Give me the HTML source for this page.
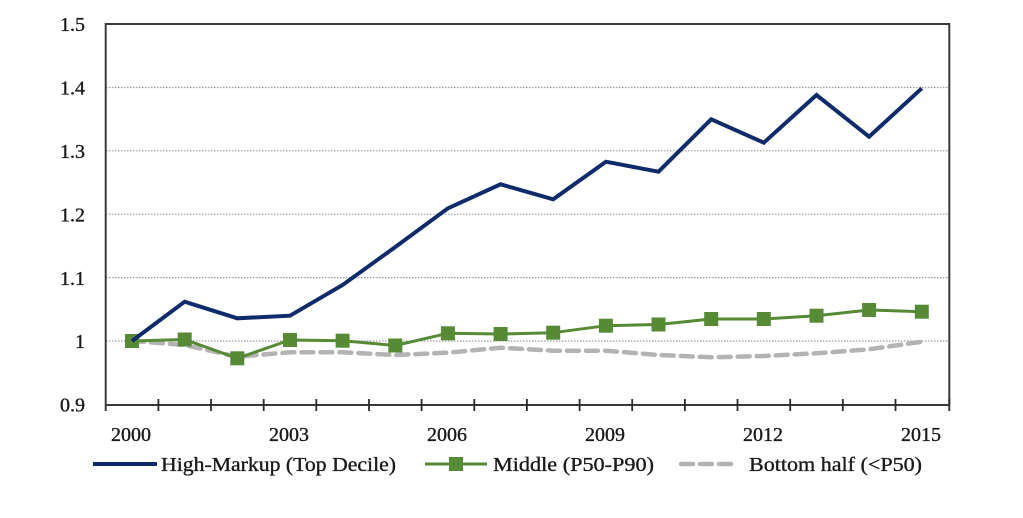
<!DOCTYPE html>
<html><head><meta charset="utf-8"><style>
html,body{margin:0;padding:0;background:#fff;}
svg{display:block;}
text{font-family:"Liberation Serif",serif;fill:#1a1a1a;stroke:#1a1a1a;stroke-width:0.35;}
</style></head><body>
<svg width="1023" height="518" viewBox="0 0 1023 518" xmlns="http://www.w3.org/2000/svg">
<rect width="1023" height="518" fill="#fff"/>
<!-- gridlines -->
<g stroke="#9a9a9a" stroke-width="1.2" stroke-dasharray="1.5,1.5">
<line x1="106" y1="87.5" x2="949" y2="87.5"/>
<line x1="106" y1="150.8" x2="949" y2="150.8"/>
<line x1="106" y1="214.2" x2="949" y2="214.2"/>
<line x1="106" y1="277.6" x2="949" y2="277.6"/>
<line x1="106" y1="341" x2="949" y2="341"/>
</g>
<!-- frame -->
<g stroke="#3a3a3a" stroke-width="2" fill="none">
<line x1="105.7" y1="24" x2="949.3" y2="24"/>
<line x1="949.3" y1="23" x2="949.3" y2="405"/>
<line x1="105.7" y1="23" x2="105.7" y2="411"/>
<line x1="105" y1="405" x2="950" y2="405"/>
</g>
<g stroke="#2a2a2a" stroke-width="1.8">
<line x1="158.4" y1="399" x2="158.4" y2="411"/>
<line x1="211.0" y1="399" x2="211.0" y2="411"/>
<line x1="263.7" y1="399" x2="263.7" y2="411"/>
<line x1="316.3" y1="399" x2="316.3" y2="411"/>
<line x1="369.0" y1="399" x2="369.0" y2="411"/>
<line x1="421.6" y1="399" x2="421.6" y2="411"/>
<line x1="474.3" y1="399" x2="474.3" y2="411"/>
<line x1="526.9" y1="399" x2="526.9" y2="411"/>
<line x1="579.6" y1="399" x2="579.6" y2="411"/>
<line x1="632.2" y1="399" x2="632.2" y2="411"/>
<line x1="684.9" y1="399" x2="684.9" y2="411"/>
<line x1="737.5" y1="399" x2="737.5" y2="411"/>
<line x1="790.2" y1="399" x2="790.2" y2="411"/>
<line x1="842.8" y1="399" x2="842.8" y2="411"/>
<line x1="895.5" y1="399" x2="895.5" y2="411"/>
<line x1="949.3" y1="399" x2="949.3" y2="411"/>
</g>
<!-- y labels -->
<g font-size="20" text-anchor="end">
<text x="85" y="31">1.5</text>
<text x="85" y="94.5">1.4</text>
<text x="85" y="158">1.3</text>
<text x="85" y="221.5">1.2</text>
<text x="85" y="285">1.1</text>
<text x="85" y="348">1</text>
<text x="85" y="411.5">0.9</text>
</g>
<!-- x labels -->
<g font-size="20" text-anchor="middle">
<text x="131" y="441">2000</text>
<text x="289" y="441">2003</text>
<text x="447" y="441">2006</text>
<text x="605" y="441">2009</text>
<text x="763" y="441">2012</text>
<text x="921" y="441">2015</text>
</g>
<!-- gray dashed -->
<polyline fill="none" stroke="#b3b3b3" stroke-width="4.5" stroke-dasharray="12,7" stroke-linecap="round" stroke-linejoin="round"
points="132,341 184.7,345 237.3,356.7 290,352.3 342.6,352.3 395.3,355 447.9,352.7 500.6,347.7 553.2,350.7 605.9,350.7 658.5,355 711.2,357.3 763.8,356 816.5,353.3 869.1,349.3 921.8,341.7"/>
<!-- green -->
<polyline fill="none" stroke="#568a35" stroke-width="3" stroke-linejoin="round"
points="132,341 184.7,339.5 237.3,358.3 290,340 342.6,340.7 395.3,345.5 447.9,333.3 500.6,334 553.2,332.7 605.9,325.7 658.5,324.5 711.2,319 763.8,319 816.5,315.7 869.1,310 921.8,311.7"/>
<g fill="#568a35">
<rect x="125" y="334" width="14" height="14"/>
<rect x="177.7" y="332.5" width="14" height="14"/>
<rect x="230.3" y="351.3" width="14" height="14"/>
<rect x="283" y="333" width="14" height="14"/>
<rect x="335.6" y="333.7" width="14" height="14"/>
<rect x="388.3" y="338.5" width="14" height="14"/>
<rect x="440.9" y="326.3" width="14" height="14"/>
<rect x="493.6" y="327" width="14" height="14"/>
<rect x="546.2" y="325.7" width="14" height="14"/>
<rect x="598.9" y="318.7" width="14" height="14"/>
<rect x="651.5" y="317.5" width="14" height="14"/>
<rect x="704.2" y="312" width="14" height="14"/>
<rect x="756.8" y="312" width="14" height="14"/>
<rect x="809.5" y="308.7" width="14" height="14"/>
<rect x="862.1" y="303" width="14" height="14"/>
<rect x="914.8" y="304.7" width="14" height="14"/>
</g>
<!-- navy -->
<polyline fill="none" stroke="#0f2b6a" stroke-width="4" stroke-linejoin="miter"
points="132,341 184.7,301.7 237.3,318.3 290,315.7 342.6,285 395.3,247 447.9,208.3 500.6,184.3 553.2,199.3 605.9,161.7 658.5,171.7 711.2,119.3 763.8,142.7 816.5,95 869.1,136.7 921.8,88.3"/>
<!-- legend -->
<line x1="93" y1="464" x2="157" y2="464" stroke="#0f2b6a" stroke-width="4"/>
<text x="161" y="471" font-size="20" textLength="235" lengthAdjust="spacingAndGlyphs">High-Markup (Top Decile)</text>
<line x1="425" y1="464" x2="487" y2="464" stroke="#568a35" stroke-width="3"/>
<rect x="449" y="457" width="14" height="14" fill="#568a35"/>
<text x="493" y="471" font-size="20" textLength="161" lengthAdjust="spacingAndGlyphs">Middle (P50-P90)</text>
<line x1="681" y1="464" x2="737" y2="464" stroke="#b3b3b3" stroke-width="4.5" stroke-dasharray="12,7" stroke-linecap="round"/>
<text x="749" y="471" font-size="20" textLength="173" lengthAdjust="spacingAndGlyphs">Bottom half (&lt;P50)</text>
</svg>
</body></html>
